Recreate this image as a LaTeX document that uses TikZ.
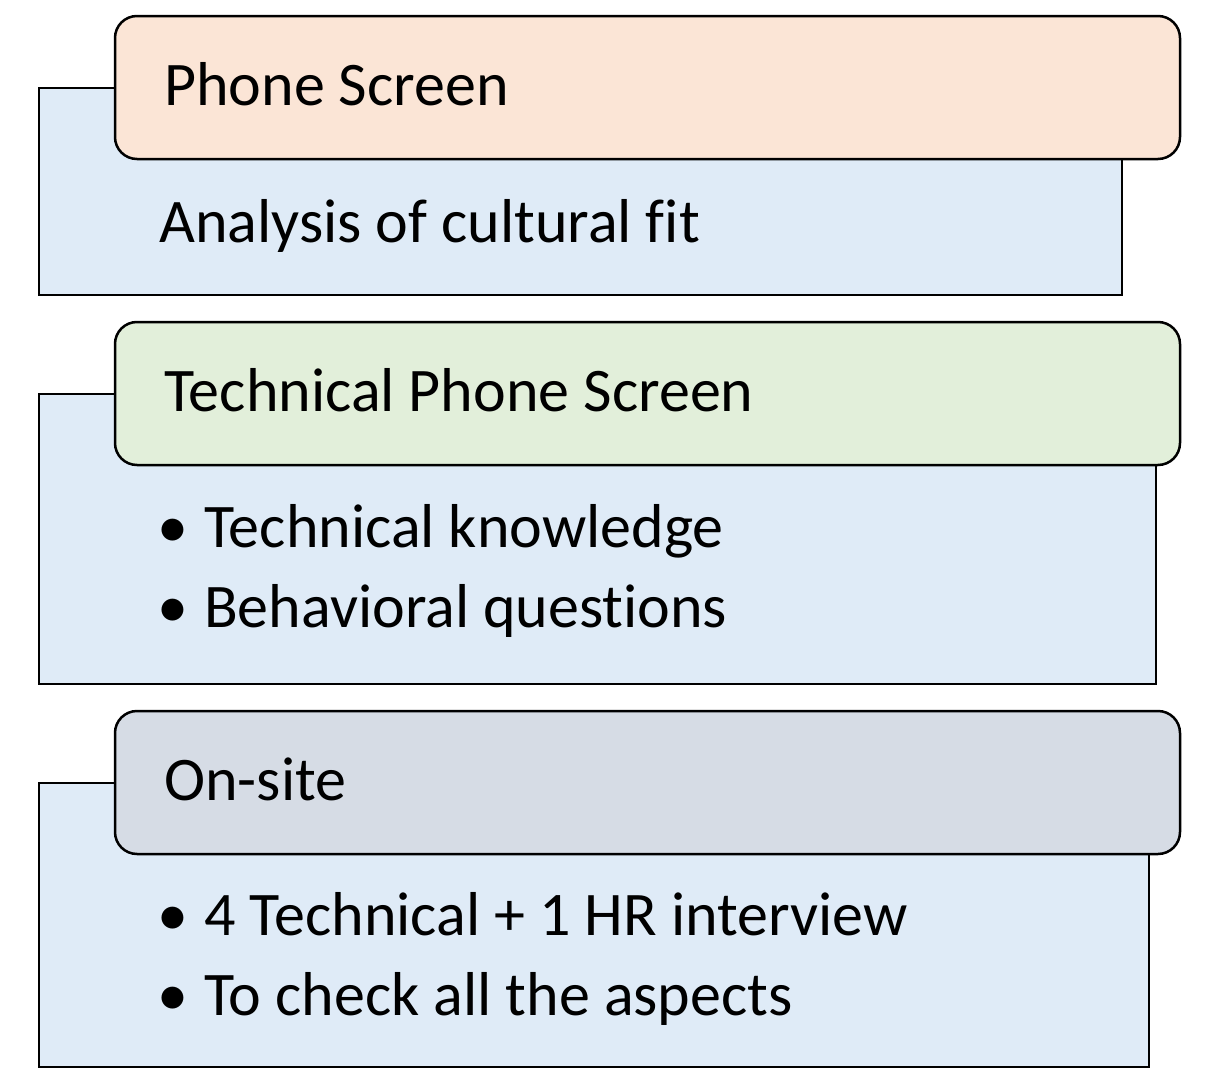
\documentclass[tikz,border=0pt]{standalone}
\usepackage{fontspec}
\setmainfont{Carlito}[Ligatures=NoCommon]
\definecolor{peach}{HTML}{FBE5D6}
\definecolor{sage}{HTML}{E2EFDA}
\definecolor{slate}{HTML}{D6DCE5}
\definecolor{pale}{HTML}{DFEBF7}
\newcommand{\bulletitem}[1]{\makebox[20pt][l]{\hspace{-3.5pt}\textbullet}#1}
\begin{document}
\begin{tikzpicture}[x=0.5pt,y=-0.5pt,line width=1.25pt,
		body/.style={draw=black,fill=pale},
		head/.style={draw=black,rounded corners=11pt},
		txt/.style={anchor=base west,inner sep=0pt,font=\fontsize{31}{37}\selectfont}]
	\useasboundingbox (0,0) rectangle (1217,1076);
	% phone screen
	\draw[body] (39,88) rectangle (1122,295);
	\draw[head,fill=peach] (115,16) rectangle (1180,159);
	\node[txt] (phone) at (163,105) {Phone Screen};
	\node[txt] (fit) at (158,242) {Analysis of cultural fit};
	% technical phone screen
	\draw[body] (39,394) rectangle (1156,684);
	\draw[head,fill=sage] (115,322) rectangle (1180,465);
	\node[txt] (tech) at (163,411) {Technical Phone Screen};
	\node[txt] (know) at (163,547) {\bulletitem{Technical knowledge}};
	\node[txt] (behav) at (163,627) {\bulletitem{Behavioral questions}};
	% on-site
	\draw[body] (39,783) rectangle (1149,1067);
	\draw[head,fill=slate] (115,711) rectangle (1180,854);
	\node[txt] (onsite) at (163,800) {On-site};
	\node[txt] (inter) at (163,935) {\bulletitem{4 Technical + 1 HR interview}};
	\node[txt] (aspect) at (163,1015) {\bulletitem{To check all the aspects}};
\end{tikzpicture}
\end{document}
